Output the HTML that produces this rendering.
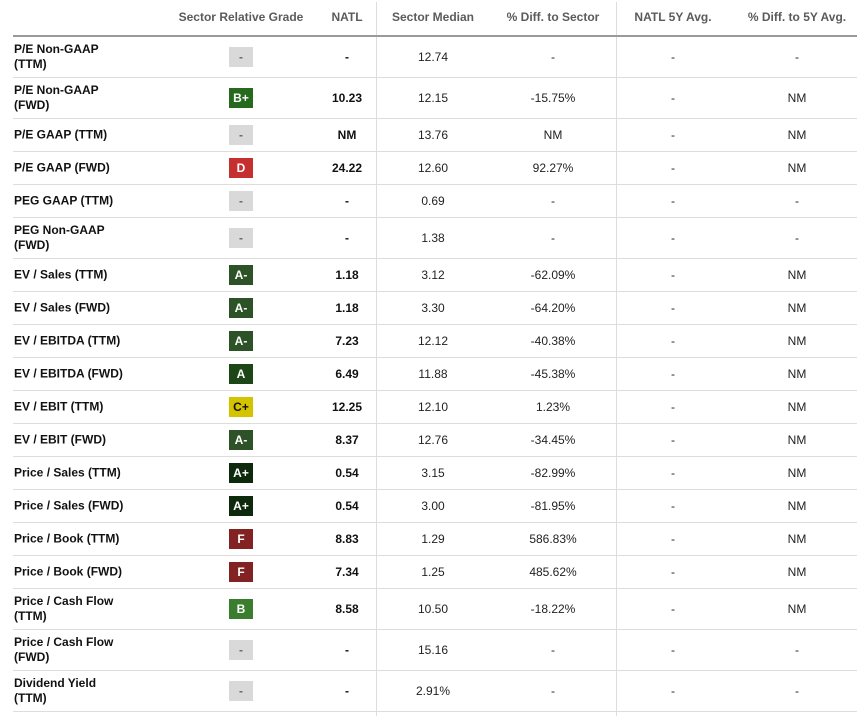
<!DOCTYPE html>
<html><head><meta charset="utf-8">
<style>
body{margin:0;background:#fff;font-family:"Liberation Sans",Arial,sans-serif;}
#wrap{position:relative;width:863px;height:716px;overflow:hidden;}
.vl{position:absolute;top:2px;bottom:0;width:1px;background:#ddd;}
.hd{position:absolute;top:10px;font-size:12px;font-weight:bold;color:#5b5b5b;transform:translateX(-50%);white-space:nowrap;}
.row{position:absolute;left:13px;width:844px;border-bottom:1px solid #ddd;}
.lbl{position:absolute;left:1px;font-size:12px;font-weight:bold;color:#111;line-height:15px;top:50%;transform:translateY(-50%);}
.c{position:absolute;top:50%;transform:translate(-50%,-50%);font-size:12px;color:#222;white-space:nowrap;}
.b{font-weight:bold;color:#111;}
.badge{position:absolute;top:50%;transform:translate(-50%,-50%);width:24px;height:20px;line-height:20px;text-align:center;font-size:12px;font-weight:bold;color:#fff;}
</style></head><body>
<div id="wrap">
<div class="vl" style="left:376px"></div>
<div class="vl" style="left:616px"></div>
<div style="position:absolute;left:13px;top:0;width:844px;height:35px;border-bottom:2px solid #9a9a9a;"></div>
<div class="hd" style="left:241px">Sector Relative Grade</div>
<div class="hd" style="left:347px">NATL</div>
<div class="hd" style="left:433px">Sector Median</div>
<div class="hd" style="left:553px">% Diff. to Sector</div>
<div class="hd" style="left:673px">NATL 5Y Avg.</div>
<div class="hd" style="left:797px">% Diff. to 5Y Avg.</div>
<div id="body"></div>
</div>
<script>
const labels=["P/E Non-GAAP<br>(TTM)","P/E Non-GAAP<br>(FWD)","P/E GAAP (TTM)","P/E GAAP (FWD)","PEG GAAP (TTM)","PEG Non-GAAP<br>(FWD)","EV / Sales (TTM)","EV / Sales (FWD)","EV / EBITDA (TTM)","EV / EBITDA (FWD)","EV / EBIT (TTM)","EV / EBIT (FWD)","Price / Sales (TTM)","Price / Sales (FWD)","Price / Book (TTM)","Price / Book (FWD)","Price / Cash Flow<br>(TTM)","Price / Cash Flow<br>(FWD)","Dividend Yield<br>(TTM)"];
const grades=["-","B+","-","D","-","-","A-","A-","A-","A","C+","A-","A+","A+","F","F","B","-","-"];
const natl=["-","10.23","NM","24.22","-","-","1.18","1.18","7.23","6.49","12.25","8.37","0.54","0.54","8.83","7.34","8.58","-","-"];
const median=["12.74","12.15","13.76","12.60","0.69","1.38","3.12","3.30","12.12","11.88","12.10","12.76","3.15","3.00","1.29","1.25","10.50","15.16","2.91%"];
const diffSector=["-","-15.75%","NM","92.27%","-","-","-62.09%","-64.20%","-40.38%","-45.38%","1.23%","-34.45%","-82.99%","-81.95%","586.83%","485.62%","-18.22%","-","-"];
const avg5=["-","-","-","-","-","-","-","-","-","-","-","-","-","-","-","-","-","-","-"];
const diff5=["-","NM","NM","NM","-","-","NM","NM","NM","NM","NM","NM","NM","NM","NM","NM","NM","-","-"];
const gradeColor={"-":"#d9d9d9","B+":"#266a1e","D":"#c62f2f","A-":"#2e5227","A":"#1c4616","A+":"#0e2a0d","C+":"#d4c400","F":"#832222","B":"#3a7d2e"};
const body=document.getElementById('body');
let y=37;
labels.forEach((l,i)=>{
  const h=l.includes('<br>')?40:32;
  const r=document.createElement('div');
  r.className='row';r.style.top=y+'px';r.style.height=h+'px';
  
  
  const g=grades[i];
  const bc=gradeColor[g];
  const tc=g==='-'?'#666':(g==='C+'?'#111':'#fff');
  r.innerHTML=`<div class="lbl">${l}</div>
<div class="badge" style="left:228px;background:${bc};color:${tc}">${g}</div>
<div class="c b" style="left:334px">${natl[i]}</div>
<div class="c" style="left:420px">${median[i]}</div>
<div class="c" style="left:540px">${diffSector[i]}</div>
<div class="c" style="left:660px">${avg5[i]}</div>
<div class="c" style="left:784px">${diff5[i]}</div>`;
  body.appendChild(r);
  y+=h+1;
});
</script>
</body></html>
